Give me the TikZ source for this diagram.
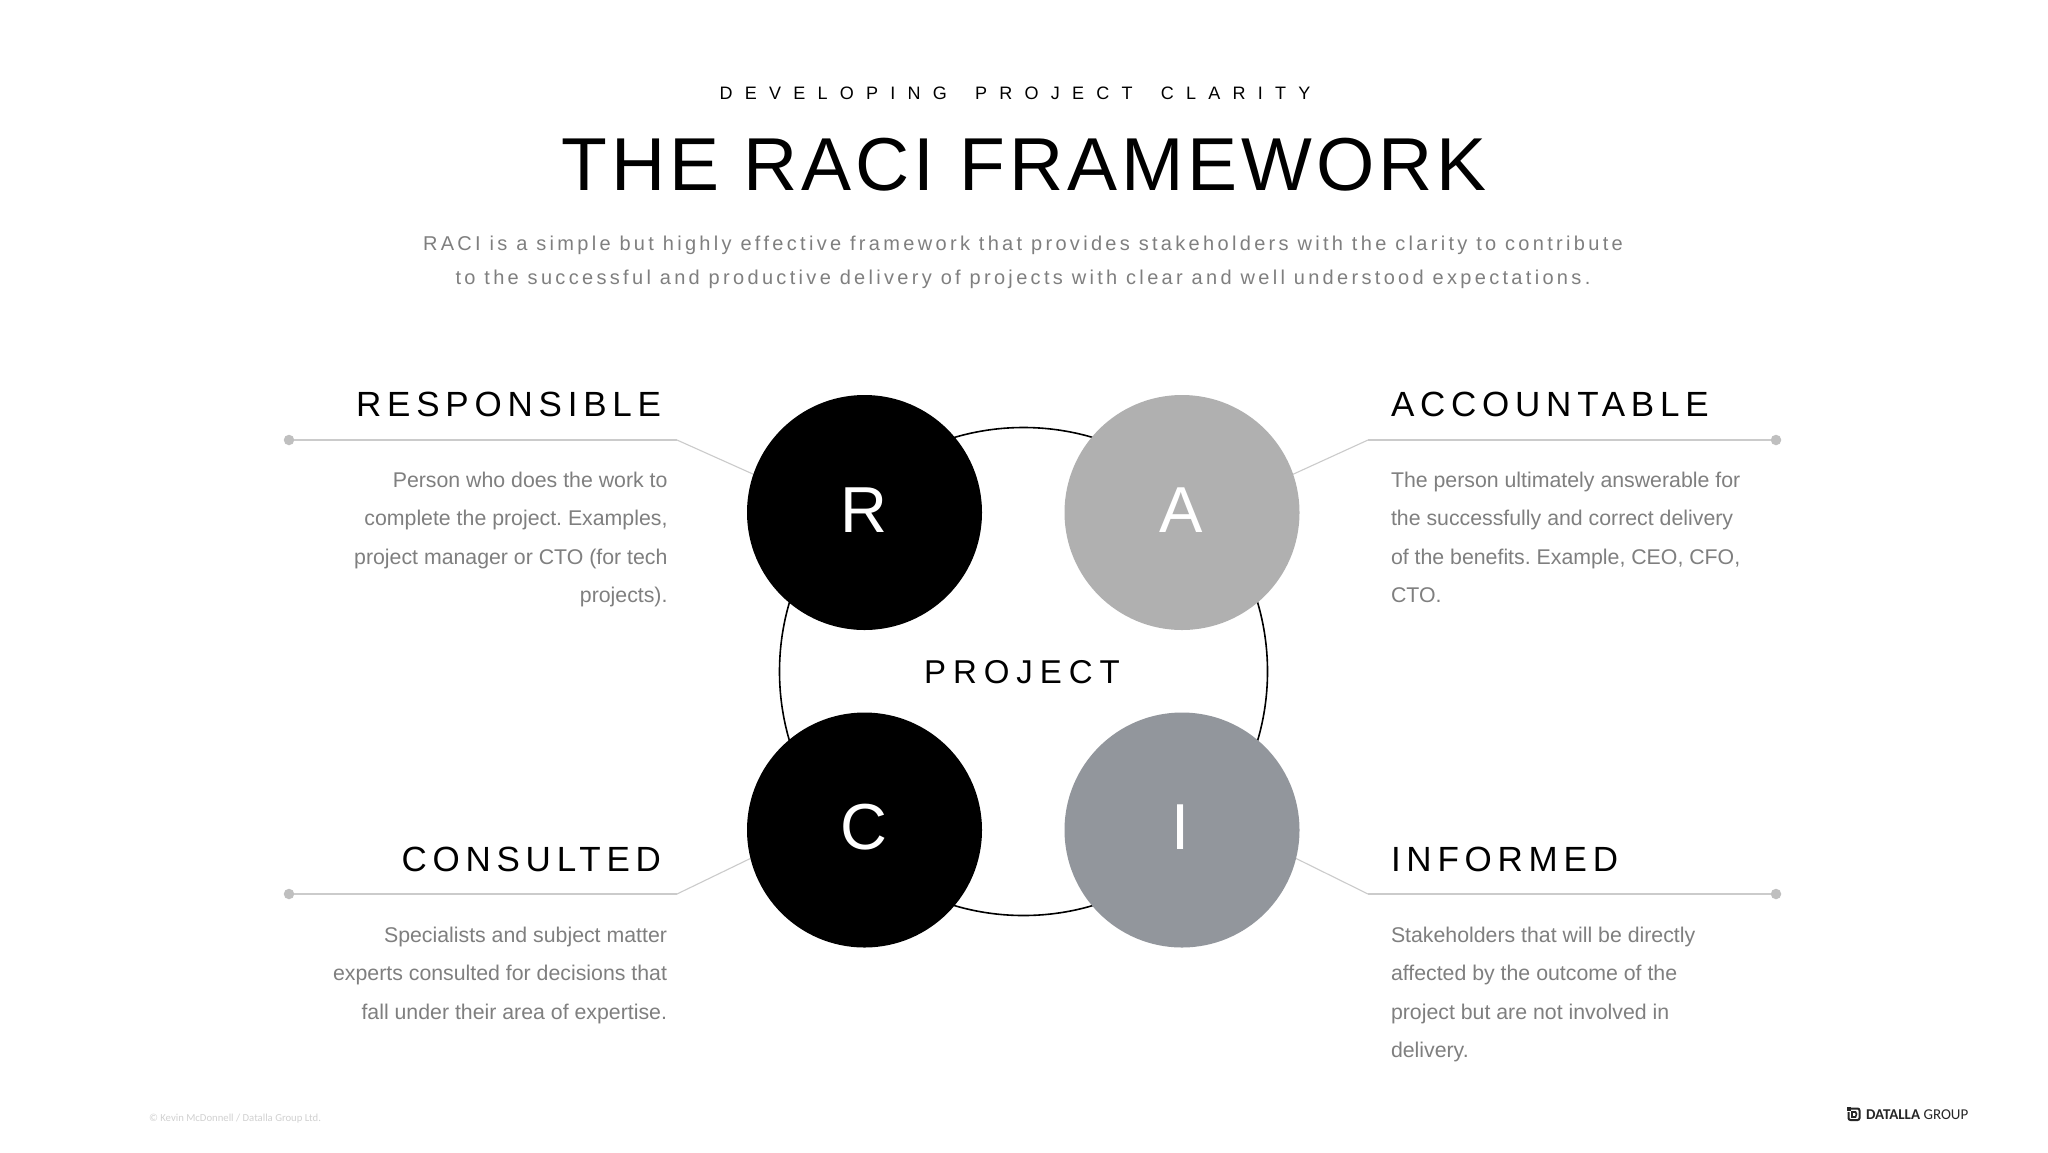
\documentclass[tikz,border=0pt]{standalone}
\usepackage{fontspec}
\setmainfont{Liberation Sans}
\newfontfamily\carl{Carlito}
\definecolor{bodygray}{HTML}{7F7F7F}
\definecolor{linegray}{HTML}{CBCBCB}
\definecolor{dotgray}{HTML}{BFBFBF}
\definecolor{agray}{HTML}{B0B0B0}
\definecolor{igray}{HTML}{92969C}
\newcommand{\spaced}[3]{\fontsize{#1}{#2}\selectfont\addfontfeature{LetterSpace=#3}}
\tikzset{
  x=1pt,y=-1pt,
  every node/.style={inner sep=0pt,outer sep=0pt},
  bigdisc/.style={circle,minimum size=235pt},
  discletter/.style={anchor=base,text=white,font=\fontsize{65}{65}\selectfont},
  headtext/.style={anchor=base,text=black,font=\spaced{35}{35}{16.5}},
  bodyleft/.style={anchor=north east,align=right,text=bodygray,font=\fontsize{21.3}{38.3}\selectfont\frenchspacing},
  bodyright/.style={anchor=north west,align=left,text=bodygray,font=\fontsize{21.3}{38.3}\selectfont\frenchspacing},
  leader/.style={draw=linegray,line width=2pt},
  leaderthin/.style={draw=linegray,line width=1.1pt},
  enddot/.style={circle,fill=dotgray,minimum size=10.5pt},
  subline/.style={anchor=base,text=bodygray,font=\spaced{20}{20}{16.6}\frenchspacing},
}
\begin{document}
\begin{tikzpicture}
\fill[white] (0,0) rectangle (2048,1152);
\useasboundingbox (0,0) rectangle (2048,1152);
% titles
\node[anchor=base,font=\spaced{18}{18}{68}] (eyebrow) at (1015,99.5) {DEVELOPING\hspace{11pt} PROJECT\hspace{11pt} CLARITY};
\node[anchor=base,font=\spaced{75}{75}{5.2}] (title) at (1024,190.5) {THE RACI FRAMEWORK};
\node[subline] (sub1) at (1023,250) {RACI is a simple but highly effective framework that provides stakeholders with the clarity to contribute};
\node[subline] (sub2) at (1023,284) {to the successful and productive delivery of projects with clear and well understood expectations.};
% centre ring
\node[circle,draw=black,line width=1.6pt,minimum size=488pt] (ring) at (1023.5,671.5) {};
\node[anchor=base,font=\spaced{33}{33}{21}] (project) at (1022,683) {PROJECT};
% discs (named for the connectors; filled after them)
\node[bigdisc] (R) at (864.5,512.5) {};
\node[bigdisc] (A) at (1182,512.5) {};
\node[bigdisc] (C) at (864.5,830) {};
\node[bigdisc] (I) at (1182,830) {};
% connectors
\node[enddot] (dotR) at (289,440) {};
\node[enddot] (dotA) at (1776,440) {};
\node[enddot] (dotC) at (289,894) {};
\node[enddot] (dotI) at (1776,894) {};
\coordinate (bendR) at (677,440);
\coordinate (bendA) at (1368,440);
\coordinate (bendC) at (677,894);
\coordinate (bendI) at (1368,894);
\draw[leader] (dotR) -- (bendR);
\draw[leader] (dotA) -- (bendA);
\draw[leader] (dotC) -- (bendC);
\draw[leader] (dotI) -- (bendI);
\draw[leaderthin] (bendR) -- (R.161);
\draw[leaderthin] (bendA) -- (A.19);
\draw[leaderthin] (bendC) -- (C.194);
\draw[leaderthin] (bendI) -- (I.-14);
% discs fill
\node[bigdisc,fill=black] at (R) {};
\node[bigdisc,fill=agray] at (A) {};
\node[bigdisc,fill=black] at (C) {};
\node[bigdisc,fill=igray] at (I) {};
\node[discletter] (lR) at (864,532) {R};
\node[discletter] (lA) at (1181,532) {A};
\node[discletter] (lC) at (864,849.5) {C};
\node[discletter] (lI) at (1181,849.5) {I};
% headings
\node[headtext,anchor=base east] (hR) at (661,416) {RESPONSIBLE};
\node[headtext,anchor=base west] (hA) at (1391,416) {ACCOUNTABLE};
\node[headtext,anchor=base east] (hC) at (661,871) {CONSULTED};
\node[headtext,anchor=base west] (hI) at (1391,871) {INFORMED};
% bodies
\node[bodyleft] (bR) at (667.5,472) {Person who does the work to\\complete the project. Examples,\\project manager or CTO (for tech\\projects).};
\node[bodyright] (bA) at (1391,472) {The person ultimately answerable for\\the successfully and correct delivery\\of the benefits. Example, CEO, CFO,\\CTO.};
\node[bodyleft] (bC) at (667,927) {Specialists and subject matter\\experts consulted for decisions that\\fall under their area of expertise.};
\node[bodyright] (bI) at (1391,927) {Stakeholders that will be directly\\affected by the outcome of the\\project but are not involved in\\delivery.};
% footer
\node[anchor=base west,text=black!18,font=\carl\fontsize{10.7}{12}\selectfont] (copy) at (149,1121) {© Kevin McDonnell / Datalla Group Ltd.};
\node[anchor=base west,text=black!85,font=\carl\fontsize{15}{15}\selectfont] (logo) at (1866,1119) {\textbf{DATALLA} GROUP};
\draw[black!85,line width=2pt,rounded corners=2pt] (1851,1108.5) -- (1859.5,1108.5) -- (1859.5,1120) -- (1848.5,1120) -- (1848.5,1112);
\fill[black!85] (1847,1106.5) rectangle (1851,1110.5);
\draw[black!85,line width=1.6pt] (1852,1112) -- (1855.5,1112) -- (1856.5,1114) -- (1855.5,1117) -- (1852,1117) -- cycle;
\end{tikzpicture}
\end{document}
